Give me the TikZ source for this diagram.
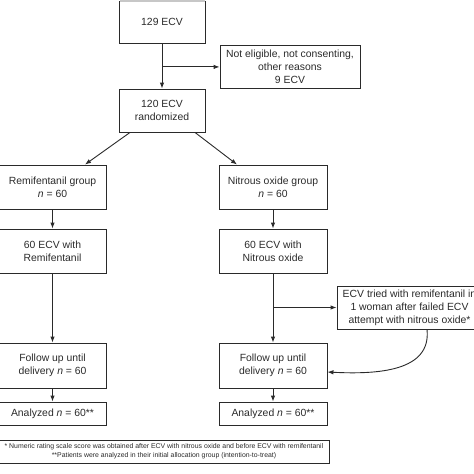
\documentclass[tikz,border=0pt]{standalone}
\usepackage{fontspec}
\setmainfont{Liberation Sans}
\usetikzlibrary{arrows.meta,calc}
\definecolor{ink}{HTML}{2A2A2A}
\tikzset{
  box/.style={draw=ink, line width=0.9pt, text=ink, align=center, inner sep=2pt,
    font=\fontsize{10.4}{13}\selectfont},
  arr/.style={draw=ink, line width=0.9pt, -{Latex[length=6pt,width=4.5pt]}},
  ln/.style={draw=ink, line width=0.9pt},
}
\begin{document}
\begin{tikzpicture}[x=1pt,y=-1pt]
\useasboundingbox (0,0) rectangle (474,474);
\clip (0,0) rectangle (474,474);
\node[box, minimum width=86pt, minimum height=42pt] (n129) at (162,22) {129 ECV};
\fill[black!22] (119.5,0) rectangle (204.5,2);
\node[box, minimum width=140pt, minimum height=43pt] (nex) at (290,66.5) {Not eligible, not consenting,\\other reasons\\9 ECV};
\node[box, minimum width=86pt, minimum height=43pt] (n120) at (162,110.5) {120 ECV\\randomized};
\node[box, minimum width=107pt, minimum height=44pt] (rg) at (52.5,187) {Remifentanil group\\\textit{n} = 60};
\node[box, minimum width=108pt, minimum height=44pt] (ng) at (273,187) {Nitrous oxide group\\\textit{n} = 60};
\node[box, minimum width=107pt, minimum height=44pt] (re60) at (52.5,251) {60 ECV with\\Remifentanil};
\node[box, minimum width=108pt, minimum height=44pt] (ni60) at (273,251) {60 ECV with\\Nitrous oxide};
\node[box, minimum width=145pt, minimum height=43pt] (ect) at (409.5,307.5) {ECV tried with remifentanil in\\1 woman after failed ECV\\attempt with nitrous oxide*};
\node[box, minimum width=107pt, minimum height=45pt] (fl) at (52.5,365.5) {Follow up until\\delivery \textit{n} = 60};
\node[box, minimum width=108pt, minimum height=45pt] (fr) at (273,365.5) {Follow up until\\delivery \textit{n} = 60};
\node[box, minimum width=107pt, minimum height=23pt] (al) at (52.5,413.5) {Analyzed \textit{n} = 60**};
\node[box, minimum width=108pt, minimum height=23pt] (ar) at (273,413.5) {Analyzed \textit{n} = 60**};
\node[box, minimum width=330pt, minimum height=23pt, font=\fontsize{6.9}{9}\selectfont] (foot) at (164,451.5) {* Numeric rating scale score was obtained after ECV with nitrous oxide and before ECV with remifentanil\\**Patients were analyzed in their initial allocation group (intention-to-treat)};
% connectors
\draw[arr] (n129.south) -- (n120.north);
\coordinate (br1) at ($(n129.south)!0.52!(n120.north)$);
\draw[arr] (br1) -- (br1 -| nex.west);
\draw[arr] ([xshift=-32pt]n120.south) -- ([xshift=32.5pt]rg.north);
\draw[arr] ([xshift=33pt]n120.south) -- ([xshift=-36pt]ng.north);
\draw[arr] (rg.south) -- (re60.north);
\draw[arr] (ng.south) -- (ni60.north);
\draw[arr] (re60.south) -- (fl.north);
\draw[arr] (ni60.south) -- (fr.north);
\coordinate (br2) at (ni60.south |- ect.west);
\draw[arr] (br2) -- (ect.west);
\draw[arr] (fl.south) -- (al.north);
\draw[arr] (fr.south) -- (ar.north);
\draw[arr] ([xshift=17.5pt]ect.south) .. controls ([xshift=22pt,yshift=-42pt]ect.south) and ([xshift=50pt,yshift=-9pt]fr.east) .. ([yshift=-6.5pt]fr.east);
\end{tikzpicture}
\end{document}
